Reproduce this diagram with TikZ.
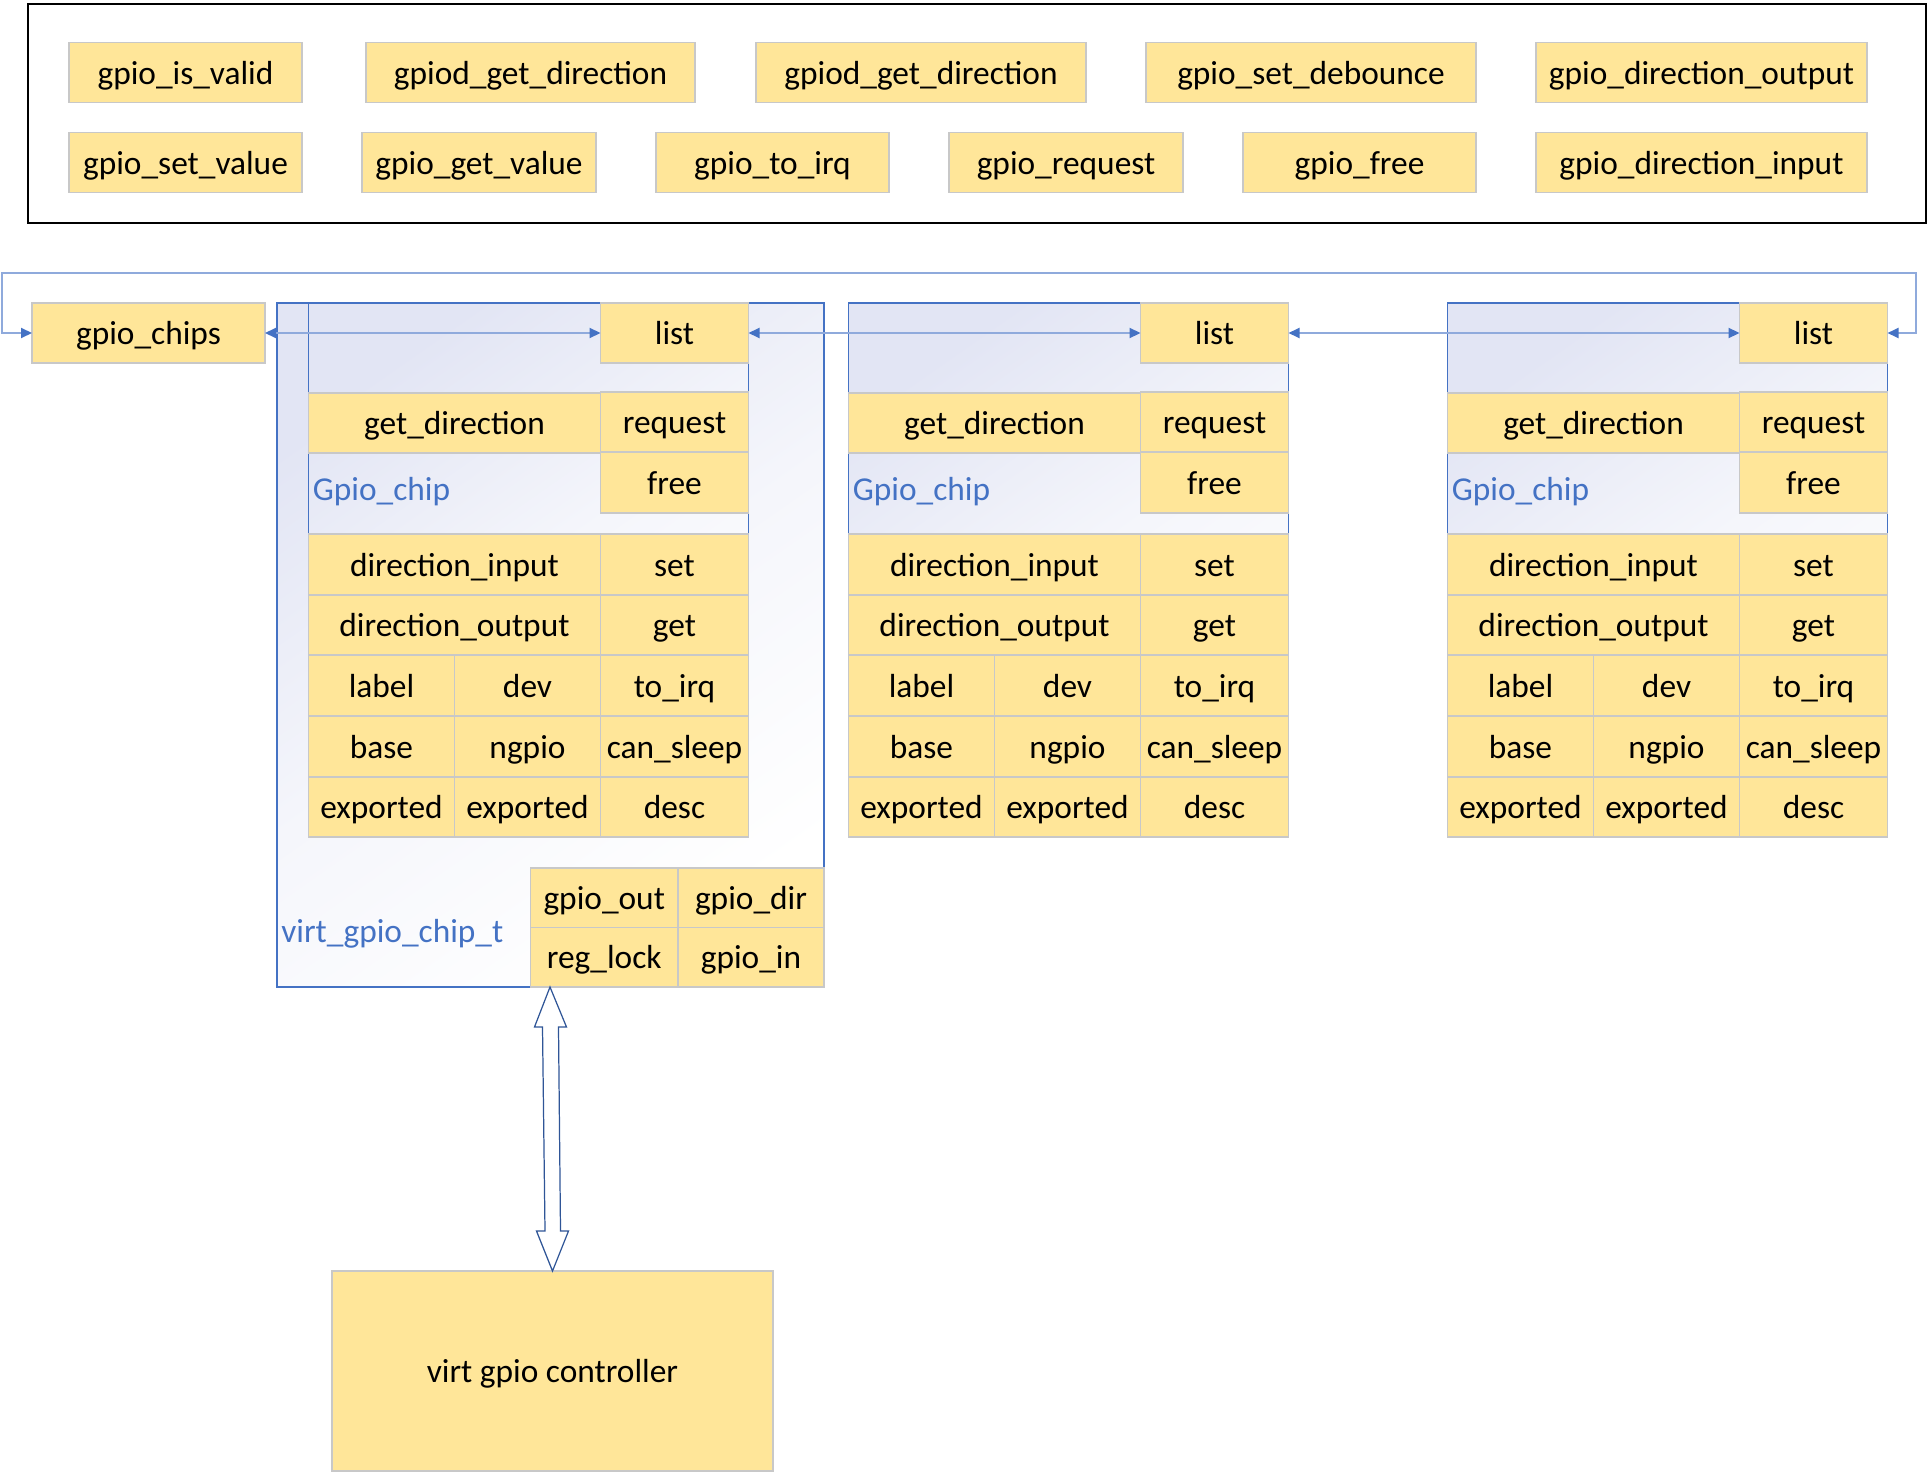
\documentclass[tikz,border=0pt]{standalone}
\usepackage{fontspec}
\setmainfont{Carlito}
\usepackage{xcolor}
\usepackage{tikz}
\usetikzlibrary{positioning, calc, arrows.meta}
\definecolor{cellyellow}{RGB}{255,230,153}
\definecolor{cellgray}{RGB}{200,200,200}
\definecolor{chipblue}{RGB}{68,114,196}
\definecolor{lineblue}{RGB}{143,170,220}
\definecolor{darkblue}{RGB}{47,85,151}
\definecolor{lavender}{RGB}{226,229,244}

\begin{document}
\begin{tikzpicture}[x=0.02cm, y=-0.02cm, font=\fontsize{19}{23}\selectfont]
		\useasboundingbox (0,0) rectangle (1930,1473);
		\tikzset{cw/.style={minimum width=#1*0.02cm}, ch/.style={minimum height=#1*0.02cm},
			ltip/.tip={Triangle[length=0.22cm, width=0.2cm, color=chipblue]}}
		\tikzstyle{cell}=[draw=cellgray, fill=cellyellow, line width=0.7pt, inner sep=0pt, outer sep=0pt, text=black,
			text height=16pt, text depth=2.7pt, ch=60]
		\tikzstyle{chipbox}=[draw=chipblue, line width=0.8pt, top color=lavender, bottom color=white,
			middle color={lavender!35!white}, shading angle=35]
		\tikzstyle{chiplabel}=[anchor=west, inner sep=0pt, text=chipblue, text height=16pt, text depth=2.7pt]
		\tikzstyle{link}=[draw=lineblue, line width=1.2pt, ltip-ltip]
		\tikzstyle{hollow}=[draw=darkblue, line width=0.7pt, fill=white, line join=miter]
		%% api functions
		\draw[line width=1.2pt] (28,4) rectangle (1926,223);
		\node (isvalid) at (185.5,72.5) [cell, cw=233] {gpio\_is\_valid};
		\node (getdira) at (530.5,72.5) [cell, cw=329] {gpiod\_get\_direction};
		\node (getdirb) at (921,72.5) [cell, cw=330] {gpiod\_get\_direction};
		\node (debounce) at (1311,72.5) [cell, cw=330] {gpio\_set\_debounce};
		\node (dirout) at (1701.5,72.5) [cell, cw=331] {gpio\_direction\_output};
		\node (setval) at (185.5,162.5) [cell, cw=233] {gpio\_set\_value};
		\node (getval) at (479,162.5) [cell, cw=234] {gpio\_get\_value};
		\node (toirq) at (772.5,162.5) [cell, cw=233] {gpio\_to\_irq};
		\node (request) at (1066,162.5) [cell, cw=234] {gpio\_request};
		\node (free) at (1359.5,162.5) [cell, cw=233] {gpio\_free};
		\node (dirin) at (1701.5,162.5) [cell, cw=331] {gpio\_direction\_input};
		%% list head
		\node (chips) at (148.5,333) [cell, cw=233] {gpio\_chips};
		%% virt_gpio_chip_t
		\draw[chipbox] (277,303) rectangle (824,987);
		\node (virt) at (281,931) [chiplabel] {virt\_gpio\_chip\_t};
		%% gpio_chip structures
		\foreach \c/\x in {1/308.5, 2/848.5, 3/1447.5} {
			\draw[chipbox] (\x,303) rectangle ({\x+440},837);
			\node (list\c) at ({\x+366},333) [cell, cw=148] {list};
			\node (getdir\c) at ({\x+146},423) [cell, cw=292] {get\_direction};
			\node (req\c) at ({\x+366},422) [cell, cw=148] {request};
			\node (free\c) at ({\x+366},482.5) [cell, cw=148, ch=61] {free};
			\node (gc\c) at ({\x+4},489) [chiplabel] {Gpio\_chip};
			\node (din\c) at ({\x+146},564.5) [cell, cw=292, ch=61] {direction\_input};
			\node (set\c) at ({\x+366},564.5) [cell, cw=148, ch=61] {set};
			\node (dout\c) at ({\x+146},625) [cell, cw=292] {direction\_output};
			\node (get\c) at ({\x+366},625) [cell, cw=148] {get};
			\node (label\c) at ({\x+73},685.5) [cell, cw=146, ch=61] {label};
			\node (dev\c) at ({\x+219},685.5) [cell, cw=146, ch=61] {dev};
			\node (irq\c) at ({\x+366},685.5) [cell, cw=148, ch=61] {to\_irq};
			\node (base\c) at ({\x+73},746.5) [cell, cw=146, ch=61] {base};
			\node (ngpio\c) at ({\x+219},746.5) [cell, cw=146, ch=61] {ngpio};
			\node (sleep\c) at ({\x+366},746.5) [cell, cw=148, ch=61] {can\_sleep};
			\node (expa\c) at ({\x+73},807) [cell, cw=146] {exported};
			\node (expb\c) at ({\x+219},807) [cell, cw=146] {exported};
			\node (desc\c) at ({\x+366},807) [cell, cw=148] {desc};
		}
		%% private fields
		\node (gpout) at (604.25,897.75) [cell, cw=147.5, ch=59.5] {gpio\_out};
		\node (gpdir) at (751,897.75) [cell, cw=146, ch=59.5] {gpio\_dir};
		\node (reglock) at (604.25,957.25) [cell, cw=147.5, ch=59.5] {reg\_lock};
		\node (gpin) at (751,957.25) [cell, cw=146, ch=59.5] {gpio\_in};
		%% controller
		\node (ctrl) at (552.5,1371) [cell, cw=441, ch=200] {virt gpio controller};
		%% list links
		\coordinate (loopr) at (1916,273);
		\coordinate (loopl) at (2,273);
		\draw[link] (chips.east) -- (list1.west);
		\draw[link] (list1.east) -- (list2.west);
		\draw[link] (list2.east) -- (list3.west);
		\draw[link] (list3.east) -| (loopr) -- (loopl) |- (chips.west);
		%% register access
		\coordinate (atop) at ($(reglock.south west)+(19.5,0)$);
		\draw[hollow] (atop) -- ($(atop)+(16.5,40)$) -- ($(atop)+(8.5,40)$) -- ($(ctrl.north)+(8,-40)$) -- ($(ctrl.north)+(16,-40)$)
			-- (ctrl.north) -- ($(ctrl.north)+(-16,-40)$) -- ($(ctrl.north)+(-7.5,-40)$) -- ($(atop)+(-7.5,40)$) -- ($(atop)+(-15.5,40)$) -- cycle;
\end{tikzpicture}
\end{document}
